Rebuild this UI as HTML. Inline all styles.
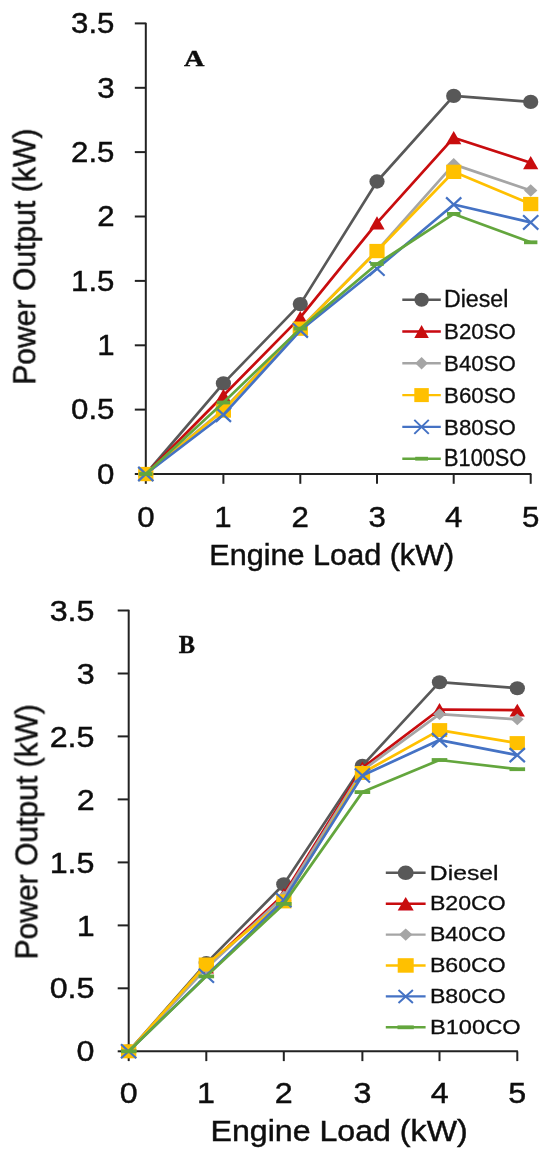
<!DOCTYPE html>
<html lang="en">
<head>
<meta charset="utf-8">
<title>Power Output vs Engine Load</title>
<style>
html,body{margin:0;padding:0;background:#fff;}
body{width:550px;height:1156px;overflow:hidden;}
svg{display:block;}
svg text{font-family:"Liberation Sans", sans-serif;fill:#0d0d0d;stroke:#0d0d0d;stroke-width:0.45px;}
svg text.lg{stroke-width:0.3px;}
</style>
</head>
<body>
<svg width="550" height="1156" viewBox="0 0 550 1156">
<defs><filter id="soft" x="-5%" y="-5%" width="110%" height="110%"><feGaussianBlur stdDeviation="0.55"/></filter></defs>
<rect width="550" height="1156" fill="#ffffff"/>
<g filter="url(#soft)">
<g id="chartA">
<path d="M145.8 22.7 V474 H531.3" stroke="#222222" stroke-width="2.0" fill="none"/>
<path d="M134.8 474.0 H145.8" stroke="#222222" stroke-width="2.0"/>
<text transform="translate(97.05 483.86) scale(1.0400 1)" font-size="30" >0</text>
<path d="M134.8 409.6 H145.8" stroke="#222222" stroke-width="2.0"/>
<text transform="translate(71.08 419.49) scale(1.0400 1)" font-size="30" >0.5</text>
<path d="M134.8 345.3 H145.8" stroke="#222222" stroke-width="2.0"/>
<text transform="translate(97.37 355.12) scale(1.0400 1)" font-size="30" >1</text>
<path d="M134.8 280.9 H145.8" stroke="#222222" stroke-width="2.0"/>
<text transform="translate(71.08 290.75) scale(1.0400 1)" font-size="30" >1.5</text>
<path d="M134.8 216.5 H145.8" stroke="#222222" stroke-width="2.0"/>
<text transform="translate(97.37 226.38) scale(1.0400 1)" font-size="30" >2</text>
<path d="M134.8 152.1 H145.8" stroke="#222222" stroke-width="2.0"/>
<text transform="translate(71.08 162.01) scale(1.0400 1)" font-size="30" >2.5</text>
<path d="M134.8 87.8 H145.8" stroke="#222222" stroke-width="2.0"/>
<text transform="translate(97.21 97.63) scale(1.0400 1)" font-size="30" >3</text>
<path d="M134.8 23.4 H145.8" stroke="#222222" stroke-width="2.0"/>
<text transform="translate(71.08 33.26) scale(1.0400 1)" font-size="30" >3.5</text>
<path d="M145.8 474 V483.8" stroke="#222222" stroke-width="2.0"/>
<text transform="translate(137.14 526.80) scale(1.0400 1)" font-size="30" >0</text>
<path d="M223.4 474 V483.8" stroke="#222222" stroke-width="2.0"/>
<text transform="translate(214.31 526.80) scale(1.0400 1)" font-size="30" >1</text>
<path d="M300.3 474 V483.8" stroke="#222222" stroke-width="2.0"/>
<text transform="translate(291.60 526.80) scale(1.0400 1)" font-size="30" >2</text>
<path d="M377.0 474 V483.8" stroke="#222222" stroke-width="2.0"/>
<text transform="translate(368.42 526.80) scale(1.0400 1)" font-size="30" >3</text>
<path d="M453.7 474 V483.8" stroke="#222222" stroke-width="2.0"/>
<text transform="translate(445.12 526.80) scale(1.0400 1)" font-size="30" >4</text>
<path d="M530.7 474 V483.8" stroke="#222222" stroke-width="2.0"/>
<text transform="translate(522.04 526.80) scale(1.0400 1)" font-size="30" >5</text>
<text transform="translate(35.30 384.81) rotate(-90) scale(0.9884 1)" font-size="30.5">Power Output (kW)</text>
<text transform="translate(209.35 565.40) scale(1.0373 1)" font-size="29.5" >Engine Load (kW)</text>
<text transform="translate(183.89 66.40) scale(1.1730 1)" font-size="24.1" style="font-family:'Liberation Serif', serif;font-weight:bold" fill="#000">A</text>
<path d="M145.8 474.0 L223.4 383.4 L300.3 304.1 L377.0 181.5 L453.7 95.9 L530.7 101.9" stroke="#595959" stroke-width="2.7" fill="none" stroke-linejoin="round" stroke-linecap="round"/>
<ellipse cx="145.8" cy="474.0" rx="7.60" ry="7.15" fill="#595959"/>
<ellipse cx="223.4" cy="383.4" rx="7.60" ry="7.15" fill="#595959"/>
<ellipse cx="300.3" cy="304.1" rx="7.60" ry="7.15" fill="#595959"/>
<ellipse cx="377.0" cy="181.5" rx="7.60" ry="7.15" fill="#595959"/>
<ellipse cx="453.7" cy="95.9" rx="7.60" ry="7.15" fill="#595959"/>
<ellipse cx="530.7" cy="101.9" rx="7.60" ry="7.15" fill="#595959"/>
<path d="M145.8 474.0 L223.4 395.5 L300.3 317.4 L377.0 222.8 L453.7 137.7 L530.7 162.7" stroke="#C8080E" stroke-width="2.7" fill="none" stroke-linejoin="round" stroke-linecap="round"/>
<path d="M145.8 467.4 L153.4 480.6 L138.2 480.6 Z" fill="#C8080E"/>
<path d="M223.4 388.9 L231.0 402.0 L215.8 402.0 Z" fill="#C8080E"/>
<path d="M300.3 310.9 L307.9 324.0 L292.7 324.0 Z" fill="#C8080E"/>
<path d="M377.0 216.2 L384.6 229.4 L369.4 229.4 Z" fill="#C8080E"/>
<path d="M453.7 131.1 L461.3 144.3 L446.1 144.3 Z" fill="#C8080E"/>
<path d="M530.7 156.1 L538.3 169.3 L523.1 169.3 Z" fill="#C8080E"/>
<path d="M145.8 474.0 L223.4 409.6 L300.3 328.3 L377.0 250.6 L453.7 164.4 L530.7 190.5" stroke="#A5A5A5" stroke-width="2.7" fill="none" stroke-linejoin="round" stroke-linecap="round"/>
<path d="M145.8 467.7 L152.5 474.0 L145.8 480.3 L139.1 474.0 Z" fill="#A5A5A5"/>
<path d="M223.4 403.3 L230.1 409.6 L223.4 415.9 L216.7 409.6 Z" fill="#A5A5A5"/>
<path d="M300.3 322.0 L307.0 328.3 L300.3 334.6 L293.6 328.3 Z" fill="#A5A5A5"/>
<path d="M377.0 244.3 L383.7 250.6 L377.0 256.9 L370.3 250.6 Z" fill="#A5A5A5"/>
<path d="M453.7 158.1 L460.4 164.4 L453.7 170.7 L447.0 164.4 Z" fill="#A5A5A5"/>
<path d="M530.7 184.2 L537.4 190.5 L530.7 196.8 L524.0 190.5 Z" fill="#A5A5A5"/>
<path d="M145.8 474.0 L223.4 410.5 L300.3 328.6 L377.0 251.0 L453.7 171.8 L530.7 204.0" stroke="#FFC000" stroke-width="2.7" fill="none" stroke-linejoin="round" stroke-linecap="round"/>
<rect x="138.2" y="466.9" width="15.2" height="14.3" fill="#FFC000"/>
<rect x="215.8" y="403.4" width="15.2" height="14.3" fill="#FFC000"/>
<rect x="292.7" y="321.5" width="15.2" height="14.3" fill="#FFC000"/>
<rect x="369.4" y="243.9" width="15.2" height="14.3" fill="#FFC000"/>
<rect x="446.1" y="164.7" width="15.2" height="14.3" fill="#FFC000"/>
<rect x="523.1" y="196.9" width="15.2" height="14.3" fill="#FFC000"/>
<path d="M145.8 474.0 L223.4 414.8 L300.3 330.5 L377.0 268.7 L453.7 204.5 L530.7 222.4" stroke="#4472C4" stroke-width="2.7" fill="none" stroke-linejoin="round" stroke-linecap="round"/>
<path d="M138.2 466.9 L153.4 481.1 M153.4 466.9 L138.2 481.1" stroke="#4472C4" stroke-width="2.2" fill="none"/>
<path d="M215.8 407.6 L231.0 421.9 M231.0 407.6 L215.8 421.9" stroke="#4472C4" stroke-width="2.2" fill="none"/>
<path d="M292.7 323.3 L307.9 337.6 M307.9 323.3 L292.7 337.6" stroke="#4472C4" stroke-width="2.2" fill="none"/>
<path d="M369.4 261.5 L384.6 275.8 M384.6 261.5 L369.4 275.8" stroke="#4472C4" stroke-width="2.2" fill="none"/>
<path d="M446.1 197.4 L461.3 211.7 M461.3 197.4 L446.1 211.7" stroke="#4472C4" stroke-width="2.2" fill="none"/>
<path d="M523.1 215.3 L538.3 229.6 M538.3 215.3 L523.1 229.6" stroke="#4472C4" stroke-width="2.2" fill="none"/>
<path d="M145.8 474.0 L223.4 402.5 L300.3 328.6 L377.0 264.0 L453.7 213.9 L530.7 242.3" stroke="#64A63E" stroke-width="2.7" fill="none" stroke-linejoin="round" stroke-linecap="round"/>
<rect x="139.1" y="472.1" width="13.4" height="3.8" fill="#64A63E"/>
<rect x="216.7" y="400.6" width="13.4" height="3.8" fill="#64A63E"/>
<rect x="293.6" y="326.7" width="13.4" height="3.8" fill="#64A63E"/>
<rect x="370.3" y="262.1" width="13.4" height="3.8" fill="#64A63E"/>
<rect x="447.0" y="212.0" width="13.4" height="3.8" fill="#64A63E"/>
<rect x="524.0" y="240.4" width="13.4" height="3.8" fill="#64A63E"/>
<path d="M402.3 299.7 H440.8" stroke="#595959" stroke-width="2.4"/>
<ellipse cx="421.6" cy="299.7" rx="7.25" ry="7.00" fill="#595959"/>
<text transform="translate(443.94 307.30) scale(1.0088 1)" font-size="23" class="lg">Diesel</text>
<path d="M402.3 331.5 H440.8" stroke="#C8080E" stroke-width="2.4"/>
<path d="M421.6 325.1 L428.8 337.9 L414.3 337.9 Z" fill="#C8080E"/>
<text transform="translate(444.02 339.10) scale(0.9700 1)" font-size="23" class="lg">B20SO</text>
<path d="M402.3 363.3 H440.8" stroke="#A5A5A5" stroke-width="2.4"/>
<path d="M421.6 357.1 L427.9 363.3 L421.6 369.5 L415.2 363.3 Z" fill="#A5A5A5"/>
<text transform="translate(444.02 370.90) scale(0.9700 1)" font-size="23" class="lg">B40SO</text>
<path d="M402.3 395.1 H440.8" stroke="#FFC000" stroke-width="2.4"/>
<rect x="414.3" y="388.1" width="14.5" height="14.0" fill="#FFC000"/>
<text transform="translate(444.02 402.70) scale(0.9700 1)" font-size="23" class="lg">B60SO</text>
<path d="M402.3 426.9 H440.8" stroke="#4472C4" stroke-width="2.4"/>
<path d="M414.3 419.9 L428.8 433.9 M428.8 419.9 L414.3 433.9" stroke="#4472C4" stroke-width="2.0" fill="none"/>
<text transform="translate(444.02 434.50) scale(0.9700 1)" font-size="23" class="lg">B80SO</text>
<path d="M402.3 458.7 H440.8" stroke="#64A63E" stroke-width="2.4"/>
<rect x="415.2" y="456.8" width="12.8" height="3.8" fill="#64A63E"/>
<text transform="translate(444.06 466.30) scale(0.9457 1)" font-size="23" class="lg">B100SO</text>
</g>
<g id="chartB">
<path d="M128.7 609.8 V1051.3 H517.9" stroke="#222222" stroke-width="2.0" fill="none"/>
<path d="M117.69999999999999 1051.3 H128.7" stroke="#222222" stroke-width="2.0"/>
<text transform="translate(76.51 1061.46) scale(1.0750 1)" font-size="30" >0</text>
<path d="M117.69999999999999 988.3 H128.7" stroke="#222222" stroke-width="2.0"/>
<text transform="translate(49.66 998.49) scale(1.0750 1)" font-size="30" >0.5</text>
<path d="M117.69999999999999 925.4 H128.7" stroke="#222222" stroke-width="2.0"/>
<text transform="translate(76.83 935.52) scale(1.0750 1)" font-size="30" >1</text>
<path d="M117.69999999999999 862.4 H128.7" stroke="#222222" stroke-width="2.0"/>
<text transform="translate(49.66 872.55) scale(1.0750 1)" font-size="30" >1.5</text>
<path d="M117.69999999999999 799.4 H128.7" stroke="#222222" stroke-width="2.0"/>
<text transform="translate(76.83 809.58) scale(1.0750 1)" font-size="30" >2</text>
<path d="M117.69999999999999 736.4 H128.7" stroke="#222222" stroke-width="2.0"/>
<text transform="translate(49.66 746.61) scale(1.0750 1)" font-size="30" >2.5</text>
<path d="M117.69999999999999 673.5 H128.7" stroke="#222222" stroke-width="2.0"/>
<text transform="translate(76.67 683.63) scale(1.0750 1)" font-size="30" >3</text>
<path d="M117.69999999999999 610.5 H128.7" stroke="#222222" stroke-width="2.0"/>
<text transform="translate(49.66 620.66) scale(1.0750 1)" font-size="30" >3.5</text>
<path d="M128.7 1051.3 V1061.1" stroke="#222222" stroke-width="2.0"/>
<text transform="translate(119.75 1102.80) scale(1.0750 1)" font-size="30" >0</text>
<path d="M206.3 1051.3 V1061.1" stroke="#222222" stroke-width="2.0"/>
<text transform="translate(196.91 1102.80) scale(1.0750 1)" font-size="30" >1</text>
<path d="M283.8 1051.3 V1061.1" stroke="#222222" stroke-width="2.0"/>
<text transform="translate(274.81 1102.80) scale(1.0750 1)" font-size="30" >2</text>
<path d="M362.4 1051.3 V1061.1" stroke="#222222" stroke-width="2.0"/>
<text transform="translate(353.53 1102.80) scale(1.0750 1)" font-size="30" >3</text>
<path d="M439.5 1051.3 V1061.1" stroke="#222222" stroke-width="2.0"/>
<text transform="translate(430.63 1102.80) scale(1.0750 1)" font-size="30" >4</text>
<path d="M517.3 1051.3 V1061.1" stroke="#222222" stroke-width="2.0"/>
<text transform="translate(508.35 1102.80) scale(1.0750 1)" font-size="30" >5</text>
<text transform="translate(37.40 959.50) rotate(-90) scale(0.9540 1)" font-size="31.5">Power Output (kW)</text>
<text transform="translate(210.53 1140.60) scale(1.1160 1)" font-size="28.8" >Engine Load (kW)</text>
<text transform="translate(178.74 653.20) scale(0.9500 1)" font-size="25.6" style="font-family:'Liberation Serif', serif;font-weight:bold" fill="#000">B</text>
<path d="M128.7 1051.3 L206.3 963.1 L283.8 884.3 L362.4 765.7 L439.5 682.2 L517.3 688.2" stroke="#595959" stroke-width="2.7" fill="none" stroke-linejoin="round" stroke-linecap="round"/>
<ellipse cx="128.7" cy="1051.3" rx="7.65" ry="7.00" fill="#595959"/>
<ellipse cx="206.3" cy="963.1" rx="7.65" ry="7.00" fill="#595959"/>
<ellipse cx="283.8" cy="884.3" rx="7.65" ry="7.00" fill="#595959"/>
<ellipse cx="362.4" cy="765.7" rx="7.65" ry="7.00" fill="#595959"/>
<ellipse cx="439.5" cy="682.2" rx="7.65" ry="7.00" fill="#595959"/>
<ellipse cx="517.3" cy="688.2" rx="7.65" ry="7.00" fill="#595959"/>
<path d="M128.7 1051.3 L206.3 966.9 L283.8 894.5 L362.4 767.9 L439.5 709.5 L517.3 710.1" stroke="#C8080E" stroke-width="2.7" fill="none" stroke-linejoin="round" stroke-linecap="round"/>
<path d="M128.7 1044.9 L136.3 1057.7 L121.0 1057.7 Z" fill="#C8080E"/>
<path d="M206.3 960.5 L214.0 973.4 L198.7 973.4 Z" fill="#C8080E"/>
<path d="M283.8 888.1 L291.4 900.9 L276.2 900.9 Z" fill="#C8080E"/>
<path d="M362.4 761.5 L370.0 774.4 L354.8 774.4 Z" fill="#C8080E"/>
<path d="M439.5 703.1 L447.1 715.9 L431.9 715.9 Z" fill="#C8080E"/>
<path d="M517.3 703.7 L524.9 716.6 L509.6 716.6 Z" fill="#C8080E"/>
<path d="M128.7 1051.3 L206.3 968.2 L283.8 896.4 L362.4 770.4 L439.5 714.2 L517.3 719.3" stroke="#A5A5A5" stroke-width="2.7" fill="none" stroke-linejoin="round" stroke-linecap="round"/>
<path d="M128.7 1045.4 L135.1 1051.3 L128.7 1057.2 L122.3 1051.3 Z" fill="#A5A5A5"/>
<path d="M206.3 962.3 L212.7 968.2 L206.3 974.1 L199.9 968.2 Z" fill="#A5A5A5"/>
<path d="M283.8 890.5 L290.2 896.4 L283.8 902.3 L277.4 896.4 Z" fill="#A5A5A5"/>
<path d="M362.4 764.6 L368.8 770.4 L362.4 776.3 L356.0 770.4 Z" fill="#A5A5A5"/>
<path d="M439.5 708.3 L445.9 714.2 L439.5 720.0 L433.1 714.2 Z" fill="#A5A5A5"/>
<path d="M517.3 713.4 L523.7 719.3 L517.3 725.2 L510.9 719.3 Z" fill="#A5A5A5"/>
<path d="M128.7 1051.3 L206.3 964.5 L283.8 901.4 L362.4 773.0 L439.5 730.1 L517.3 743.1" stroke="#FFC000" stroke-width="2.7" fill="none" stroke-linejoin="round" stroke-linecap="round"/>
<rect x="121.0" y="1044.3" width="15.3" height="14.0" fill="#FFC000"/>
<rect x="198.7" y="957.5" width="15.3" height="14.0" fill="#FFC000"/>
<rect x="276.2" y="894.4" width="15.3" height="14.0" fill="#FFC000"/>
<rect x="354.8" y="766.0" width="15.3" height="14.0" fill="#FFC000"/>
<rect x="431.9" y="723.1" width="15.3" height="14.0" fill="#FFC000"/>
<rect x="509.6" y="736.1" width="15.3" height="14.0" fill="#FFC000"/>
<path d="M128.7 1051.3 L206.3 975.7 L283.8 900.2 L362.4 775.5 L439.5 740.1 L517.3 755.1" stroke="#4472C4" stroke-width="2.7" fill="none" stroke-linejoin="round" stroke-linecap="round"/>
<path d="M121.0 1044.3 L136.3 1058.3 M136.3 1044.3 L121.0 1058.3" stroke="#4472C4" stroke-width="2.2" fill="none"/>
<path d="M198.7 968.7 L214.0 982.7 M214.0 968.7 L198.7 982.7" stroke="#4472C4" stroke-width="2.2" fill="none"/>
<path d="M276.2 893.2 L291.4 907.2 M291.4 893.2 L276.2 907.2" stroke="#4472C4" stroke-width="2.2" fill="none"/>
<path d="M354.8 768.5 L370.0 782.5 M370.0 768.5 L354.8 782.5" stroke="#4472C4" stroke-width="2.2" fill="none"/>
<path d="M431.9 733.1 L447.1 747.1 M447.1 733.1 L431.9 747.1" stroke="#4472C4" stroke-width="2.2" fill="none"/>
<path d="M509.6 748.1 L524.9 762.1 M524.9 748.1 L509.6 762.1" stroke="#4472C4" stroke-width="2.2" fill="none"/>
<path d="M128.7 1051.3 L206.3 976.4 L283.8 903.9 L362.4 792.1 L439.5 760.0 L517.3 769.2" stroke="#64A63E" stroke-width="2.7" fill="none" stroke-linejoin="round" stroke-linecap="round"/>
<rect x="120.9" y="1049.4" width="15.6" height="3.8" fill="#64A63E"/>
<rect x="198.5" y="974.5" width="15.6" height="3.8" fill="#64A63E"/>
<rect x="276.0" y="902.0" width="15.6" height="3.8" fill="#64A63E"/>
<rect x="354.6" y="790.2" width="15.6" height="3.8" fill="#64A63E"/>
<rect x="431.7" y="758.1" width="15.6" height="3.8" fill="#64A63E"/>
<rect x="509.5" y="767.3" width="15.6" height="3.8" fill="#64A63E"/>
<path d="M385.8 872.8 H425.6" stroke="#595959" stroke-width="2.4"/>
<ellipse cx="405.7" cy="872.8" rx="8.00" ry="7.25" fill="#595959"/>
<text transform="translate(429.82 879.50) scale(1.1770 1)" font-size="21" class="lg">Diesel</text>
<path d="M385.8 903.7 H425.6" stroke="#C8080E" stroke-width="2.4"/>
<path d="M405.7 897.0 L413.7 910.4 L397.7 910.4 Z" fill="#C8080E"/>
<text transform="translate(429.95 910.40) scale(1.1000 1)" font-size="21" class="lg">B20CO</text>
<path d="M385.8 934.6 H425.6" stroke="#A5A5A5" stroke-width="2.4"/>
<path d="M405.7 928.5 L412.4 934.6 L405.7 940.7 L399.0 934.6 Z" fill="#A5A5A5"/>
<text transform="translate(429.95 941.30) scale(1.1000 1)" font-size="21" class="lg">B40CO</text>
<path d="M385.8 965.5 H425.6" stroke="#FFC000" stroke-width="2.4"/>
<rect x="397.7" y="958.2" width="16.0" height="14.5" fill="#FFC000"/>
<text transform="translate(429.95 972.20) scale(1.1000 1)" font-size="21" class="lg">B60CO</text>
<path d="M385.8 996.4 H425.6" stroke="#4472C4" stroke-width="2.4"/>
<path d="M398.5 989.9 L412.9 1002.9 M412.9 989.9 L398.5 1002.9" stroke="#4472C4" stroke-width="2.0" fill="none"/>
<text transform="translate(429.95 1003.10) scale(1.1000 1)" font-size="21" class="lg">B80CO</text>
<path d="M385.8 1027.3 H425.6" stroke="#64A63E" stroke-width="2.4"/>
<rect x="397.5" y="1025.4" width="16.3" height="3.8" fill="#64A63E"/>
<text transform="translate(429.91 1034.00) scale(1.1275 1)" font-size="21" class="lg">B100CO</text>
</g>
</g>
</svg>
</body>
</html>
